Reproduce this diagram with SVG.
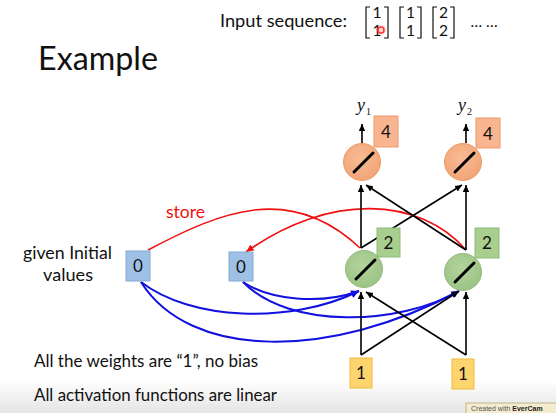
<svg xmlns="http://www.w3.org/2000/svg" width="556" height="413" viewBox="0 0 556 413">
<defs>
<linearGradient id="bg" x1="0" y1="0" x2="0" y2="1">
<stop offset="0" stop-color="#ffffff"/><stop offset="1" stop-color="#e4e4e4"/>
</linearGradient>
<radialGradient id="gG" cx="0.45" cy="0.4" r="0.6"><stop offset="0" stop-color="#b3d49c"/><stop offset="1" stop-color="#9cc386"/></radialGradient>
<radialGradient id="gO" cx="0.45" cy="0.4" r="0.6"><stop offset="0" stop-color="#f8bb94"/><stop offset="1" stop-color="#f2a577"/></radialGradient>
<marker id="ak" markerWidth="8" markerHeight="8" refX="7" refY="4" orient="auto" markerUnits="userSpaceOnUse"><path d="M0,0.8 L7,4 L0,7.2 Z" fill="#000"/></marker>
<marker id="ab" markerWidth="9" markerHeight="9" refX="8" refY="4.5" orient="auto" markerUnits="userSpaceOnUse"><path d="M0,1 L8,4.5 L0,8 Z" fill="#1010e0"/></marker>
<marker id="ar" markerWidth="9" markerHeight="9" refX="8" refY="4.5" orient="auto" markerUnits="userSpaceOnUse"><path d="M0,1 L8,4.5 L0,8 Z" fill="#f01010"/></marker>
<style>
.t{font-family:Lato,"Liberation Sans",Arial,sans-serif;fill:#111;}
.blue{fill:#9dc0e4;stroke:#86aad6;stroke-width:1;}
.grn{fill:#a8cf8e;stroke:#8fba76;stroke-width:1;}
.org{fill:#f8b590;stroke:#f09a6a;stroke-width:1;}
.yel{fill:#fdd46e;stroke:#efbc3c;stroke-width:1;}
.cg{fill:url(#gG);stroke:#93bb7b;stroke-width:1;}
.co{fill:url(#gO);stroke:#ec9a68;stroke-width:1;}
.sl{stroke:#000;stroke-width:3;stroke-linecap:round;}
.k{stroke:#000;stroke-width:1.6;fill:none;}
.b{stroke:#1010e0;stroke-width:2;fill:none;}
.r{stroke:#f01010;stroke-width:1.6;fill:none;}
.lbl{font-size:17px;text-anchor:middle;}
</style>
</defs>
<rect x="0" y="0" width="556" height="413" fill="#fff"/>
<rect x="0" y="380" width="556" height="33" fill="url(#bg)"/>

<text class="t" x="38" y="70" font-size="32" textLength="120" lengthAdjust="spacingAndGlyphs">Example</text>
<text class="t" x="220" y="27" font-size="18" textLength="127" lengthAdjust="spacingAndGlyphs">Input sequence:</text>
<g id="seq" class="t" font-size="15.5" text-anchor="middle">
<path d="M370,7 H366 V38 H370 M384,7 H388 V38 H384" fill="none" stroke="#111" stroke-width="1.2"/>
<text x="377" y="18">1</text><text x="377" y="36">1</text>
<path d="M404,7 H400 V38 H404 M417,7 H421 V38 H417" fill="none" stroke="#111" stroke-width="1.2"/>
<text x="410.5" y="18">1</text><text x="410.5" y="36">1</text>
<path d="M437,7 H433 V38 H437 M450,7 H454 V38 H450" fill="none" stroke="#111" stroke-width="1.2"/>
<text x="443.5" y="18">2</text><text x="443.5" y="36">2</text>
<text x="484" y="27">… …</text>
</g>
<circle cx="381" cy="30" r="3" fill="none" stroke="#ff3030" stroke-width="1.5"/>
<circle cx="381" cy="30" r="5" fill="#ff5050" opacity="0.25"/>

<text class="t" x="23" y="259" font-size="17.5" textLength="89" lengthAdjust="spacingAndGlyphs">given Initial</text>
<text class="t" x="43" y="281" font-size="17.5" textLength="50" lengthAdjust="spacingAndGlyphs">values</text>
<text class="t" x="34" y="367" font-size="17.5" textLength="224" lengthAdjust="spacingAndGlyphs">All the weights are “1”, no bias</text>
<text class="t" x="34" y="401" font-size="17.5" textLength="243" lengthAdjust="spacingAndGlyphs">All activation functions are linear</text>
<text x="166" y="218" font-size="17" fill="#f01010" font-family="Lato,Liberation Sans,Arial,sans-serif" textLength="39" lengthAdjust="spacingAndGlyphs">store</text>

<g id="connectors">
<path class="r" d="M148,250 C220,212 290,182 360,248"/>
<path class="r" d="M466,250 C420,197 330,192 246,252" marker-end="url(#ar)"/>
<path class="b" d="M141,282 C190,320 290,325 359,291" marker-end="url(#ab)"/>
<path class="b" d="M141,282 C190,360 330,360 459,291" marker-end="url(#ab)"/>
<path class="b" d="M243,282 C270,300 320,305 359,291" marker-end="url(#ab)"/>
<path class="b" d="M243,282 C290,330 400,325 459,291" marker-end="url(#ab)"/>
<path class="k" d="M361,355 V292" marker-end="url(#ak)"/>
<path class="k" d="M361,355 L459,291" marker-end="url(#ak)"/>
<path class="k" d="M466,355 V292" marker-end="url(#ak)"/>
<path class="k" d="M466,355 L366,292" marker-end="url(#ak)"/>
<path class="k" d="M361,248 V185" marker-end="url(#ak)"/>
<path class="k" d="M361,248 L462,185" marker-end="url(#ak)"/>
<path class="k" d="M466,250 V185" marker-end="url(#ak)"/>
<path class="k" d="M466,250 L366,185" marker-end="url(#ak)"/>
<path class="k" d="M362,143 V124" marker-end="url(#ak)"/>
<path class="k" d="M466,143 V124" marker-end="url(#ak)"/>
</g>

<g id="init1"><rect class="blue" x="126" y="251" width="24" height="30"/><text class="t lbl" x="138" y="272">0</text></g>
<g id="init2"><rect class="blue" x="229" y="252" width="24" height="29"/><text class="t lbl" x="241" y="273">0</text></g>

<g id="h1"><circle class="cg" cx="364" cy="269" r="18.5"/><line class="sl" x1="356" y1="279" x2="375" y2="260"/>
<rect class="grn" x="377" y="228" width="23" height="29"/><text class="t lbl" x="388.5" y="249">2</text></g>
<g id="h2"><circle class="cg" cx="463" cy="272" r="18.5"/><line class="sl" x1="455" y1="282" x2="474" y2="263"/>
<rect class="grn" x="475" y="228" width="24" height="30"/><text class="t lbl" x="487" y="249">2</text></g>

<g id="o1"><circle class="co" cx="362" cy="162" r="18.5"/><line class="sl" x1="354" y1="172" x2="373" y2="153"/>
<rect class="org" x="374" y="116" width="24" height="31"/><text class="t lbl" x="386" y="138">4</text></g>
<g id="o2"><circle class="co" cx="463" cy="162" r="18.5"/><line class="sl" x1="455" y1="172" x2="474" y2="153"/>
<rect class="org" x="476" y="118" width="24" height="30"/><text class="t lbl" x="488" y="140">4</text></g>

<g id="y1"><text x="357" y="111" font-size="18" font-style="italic" font-family="Liberation Serif,serif" fill="#111">y</text><text x="366" y="115" font-size="10" font-family="Liberation Serif,serif" fill="#111">1</text></g>
<g id="y2"><text x="458" y="111" font-size="18" font-style="italic" font-family="Liberation Serif,serif" fill="#111">y</text><text x="467" y="115" font-size="10" font-family="Liberation Serif,serif" fill="#111">2</text></g>

<g id="x1"><rect class="yel" x="350" y="358" width="22" height="30"/><text class="t lbl" x="361" y="379">1</text></g>
<g id="x2"><rect class="yel" x="452" y="359" width="22" height="30"/><text class="t lbl" x="463" y="380">1</text></g>

<g id="watermark"><rect x="466" y="403" width="95" height="12" fill="#f3eccf" stroke="#b8a878" stroke-width="0.8"/><text x="471" y="411" font-size="7" fill="#555" font-family="Liberation Sans,Arial,sans-serif">Created with <tspan font-weight="bold" fill="#222">EverCam</tspan></text></g>
</svg>
